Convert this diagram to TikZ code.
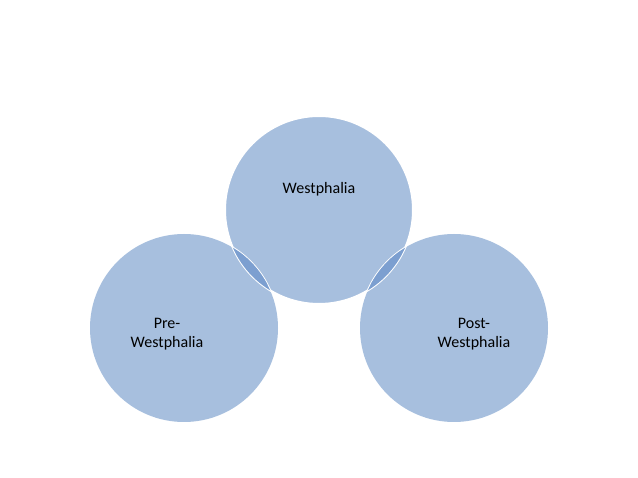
\documentclass[tikz,border=0pt]{standalone}
\usepackage{fontspec}
\setmainfont{Carlito}
\begin{document}
\begin{tikzpicture}[x=1pt,y=-1pt,
  circ/.style={fill=cfill,draw=none},
  lbl/.style={font=\fontsize{16}{19}\selectfont,align=center,text=black}]
\definecolor{cfill}{HTML}{A7BFDE}
\definecolor{cdark}{HTML}{7C9FD0}
\useasboundingbox[fill=white] (0,0) rectangle (638,478);
\fill[cfill] (319,210) circle (94);
\fill[cfill] (184,328) circle (94);
\fill[cfill] (454,328) circle (94);
\begin{scope}
  \clip (319,210) circle (94);
  \fill[cdark] (184,328) circle (94);
  \fill[cdark] (454,328) circle (94);
  \draw[white,line width=2pt] (184,328) circle (94);
  \draw[white,line width=2pt] (454,328) circle (94);
\end{scope}
\begin{scope}
  \clip (184,328) circle (94) (454,328) circle (94);
  \fill[cfill] (319,210) circle (91);
\end{scope}
\draw[white,line width=2pt] (319,210) circle (94);
\begin{scope}
  \clip (319,210) circle (94);
  \fill[cdark] (184,328) circle (94);
  \fill[cdark] (454,328) circle (94);
\end{scope}
\node[lbl] (w) at (319,189) {Westphalia};
\node[lbl] (pre) at (167,334) {Pre-\\Westphalia};
\node[lbl] (post) at (474,334) {Post-\\Westphalia};
\end{tikzpicture}
\end{document}
